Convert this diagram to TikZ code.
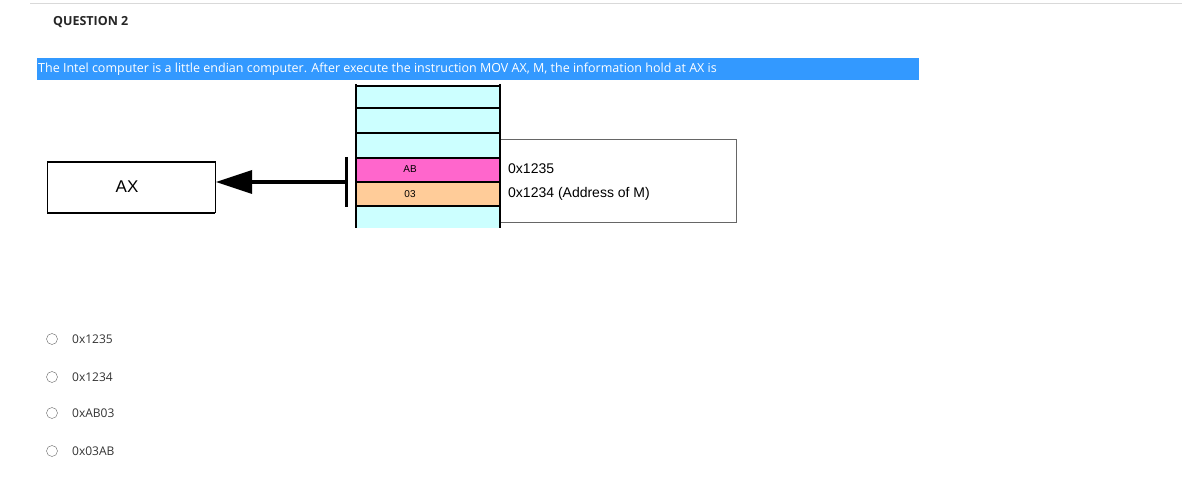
\documentclass[tikz,border=0pt]{standalone}
\usepackage{fontspec}
\setmainfont{Open Sans}
\newfontfamily\arialf{Liberation Sans}
\begin{document}
\begin{tikzpicture}[x=1pt,y=-1pt,
  cell/.style={draw=black,line width=1.6pt},
  lbl/.style={font=\arialf\fontsize{14}{16}\selectfont,anchor=west,inner sep=0},
  opt/.style={font=\fontsize{12}{14}\selectfont,anchor=west,inner sep=0,text=black!80},
  radio/.style={draw=black!60,circle,minimum size=11pt,inner sep=0}]
\useasboundingbox (0,0) rectangle (1182,494);
\draw[black!15] (30,3) -- (1182,3);
\node[anchor=west,inner sep=0,font=\bfseries\fontsize{12.5}{14}\selectfont,text=black!85] (q) at (53,22) {QUESTION 2};
\fill[fill={rgb,255:red,51;green,153;blue,255}] (37,58) rectangle (919,80);
\node[anchor=west,inner sep=0,text=white,font=\fontsize{12.5}{14}\selectfont] (t) at (38,69) {The Intel computer is a little endian computer. After execute the instruction MOV AX, M, the information hold at AX is};
% memory
\fill[fill={rgb,255:red,204;green,255;blue,255}] (356,86) rectangle (500,228);
\fill[fill={rgb,255:red,255;green,102;blue,204}] (356,158) rectangle (500,182);
\fill[fill={rgb,255:red,255;green,204;blue,153}] (356,182) rectangle (500,206);
\foreach \y in {86,108,133,158,182,206} \draw[cell] (356,\y) -- (500,\y);
\draw[line width=1.6pt] (356,84) -- (356,228) (500,84) -- (500,228);
\node[font=\arialf\fontsize{10}{12}\selectfont] (ab) at (410,169) {AB};
\node[font=\arialf\fontsize{10}{12}\selectfont] (n03) at (410,194) {03};
\draw[black!60,fill=white] (500,139) rectangle (736,222);
\draw[line width=1.6pt] (500,139) -- (500,228);
\node[lbl] (a1) at (508,169) {0x1235};
\node[lbl] (a2) at (508,194) {0x1234 (Address of M)};
% AX
\draw[line width=1pt] (47,162) rectangle (215,213);
\draw[line width=2pt] (47,162) -- (215,162) (47,213) -- (215,213);
\node[font=\arialf\fontsize{17}{20}\selectfont] (ax) at (127,187) {AX};
\coordinate (bar) at (346,182);
\draw[line width=3pt] (346,157) -- (346,207);
\draw[line width=4pt] (bar) -- (250,182);
\fill (216,182) -- (252,170) -- (252,194) -- cycle;
% options
\foreach \y/\t in {339/0x1235,377/0x1234,413/0xAB03,451/0x03AB}{
  \node[radio] at (52,\y) {};
  \node[opt] at (72,\y) {\t};
}
\end{tikzpicture}
\end{document}
